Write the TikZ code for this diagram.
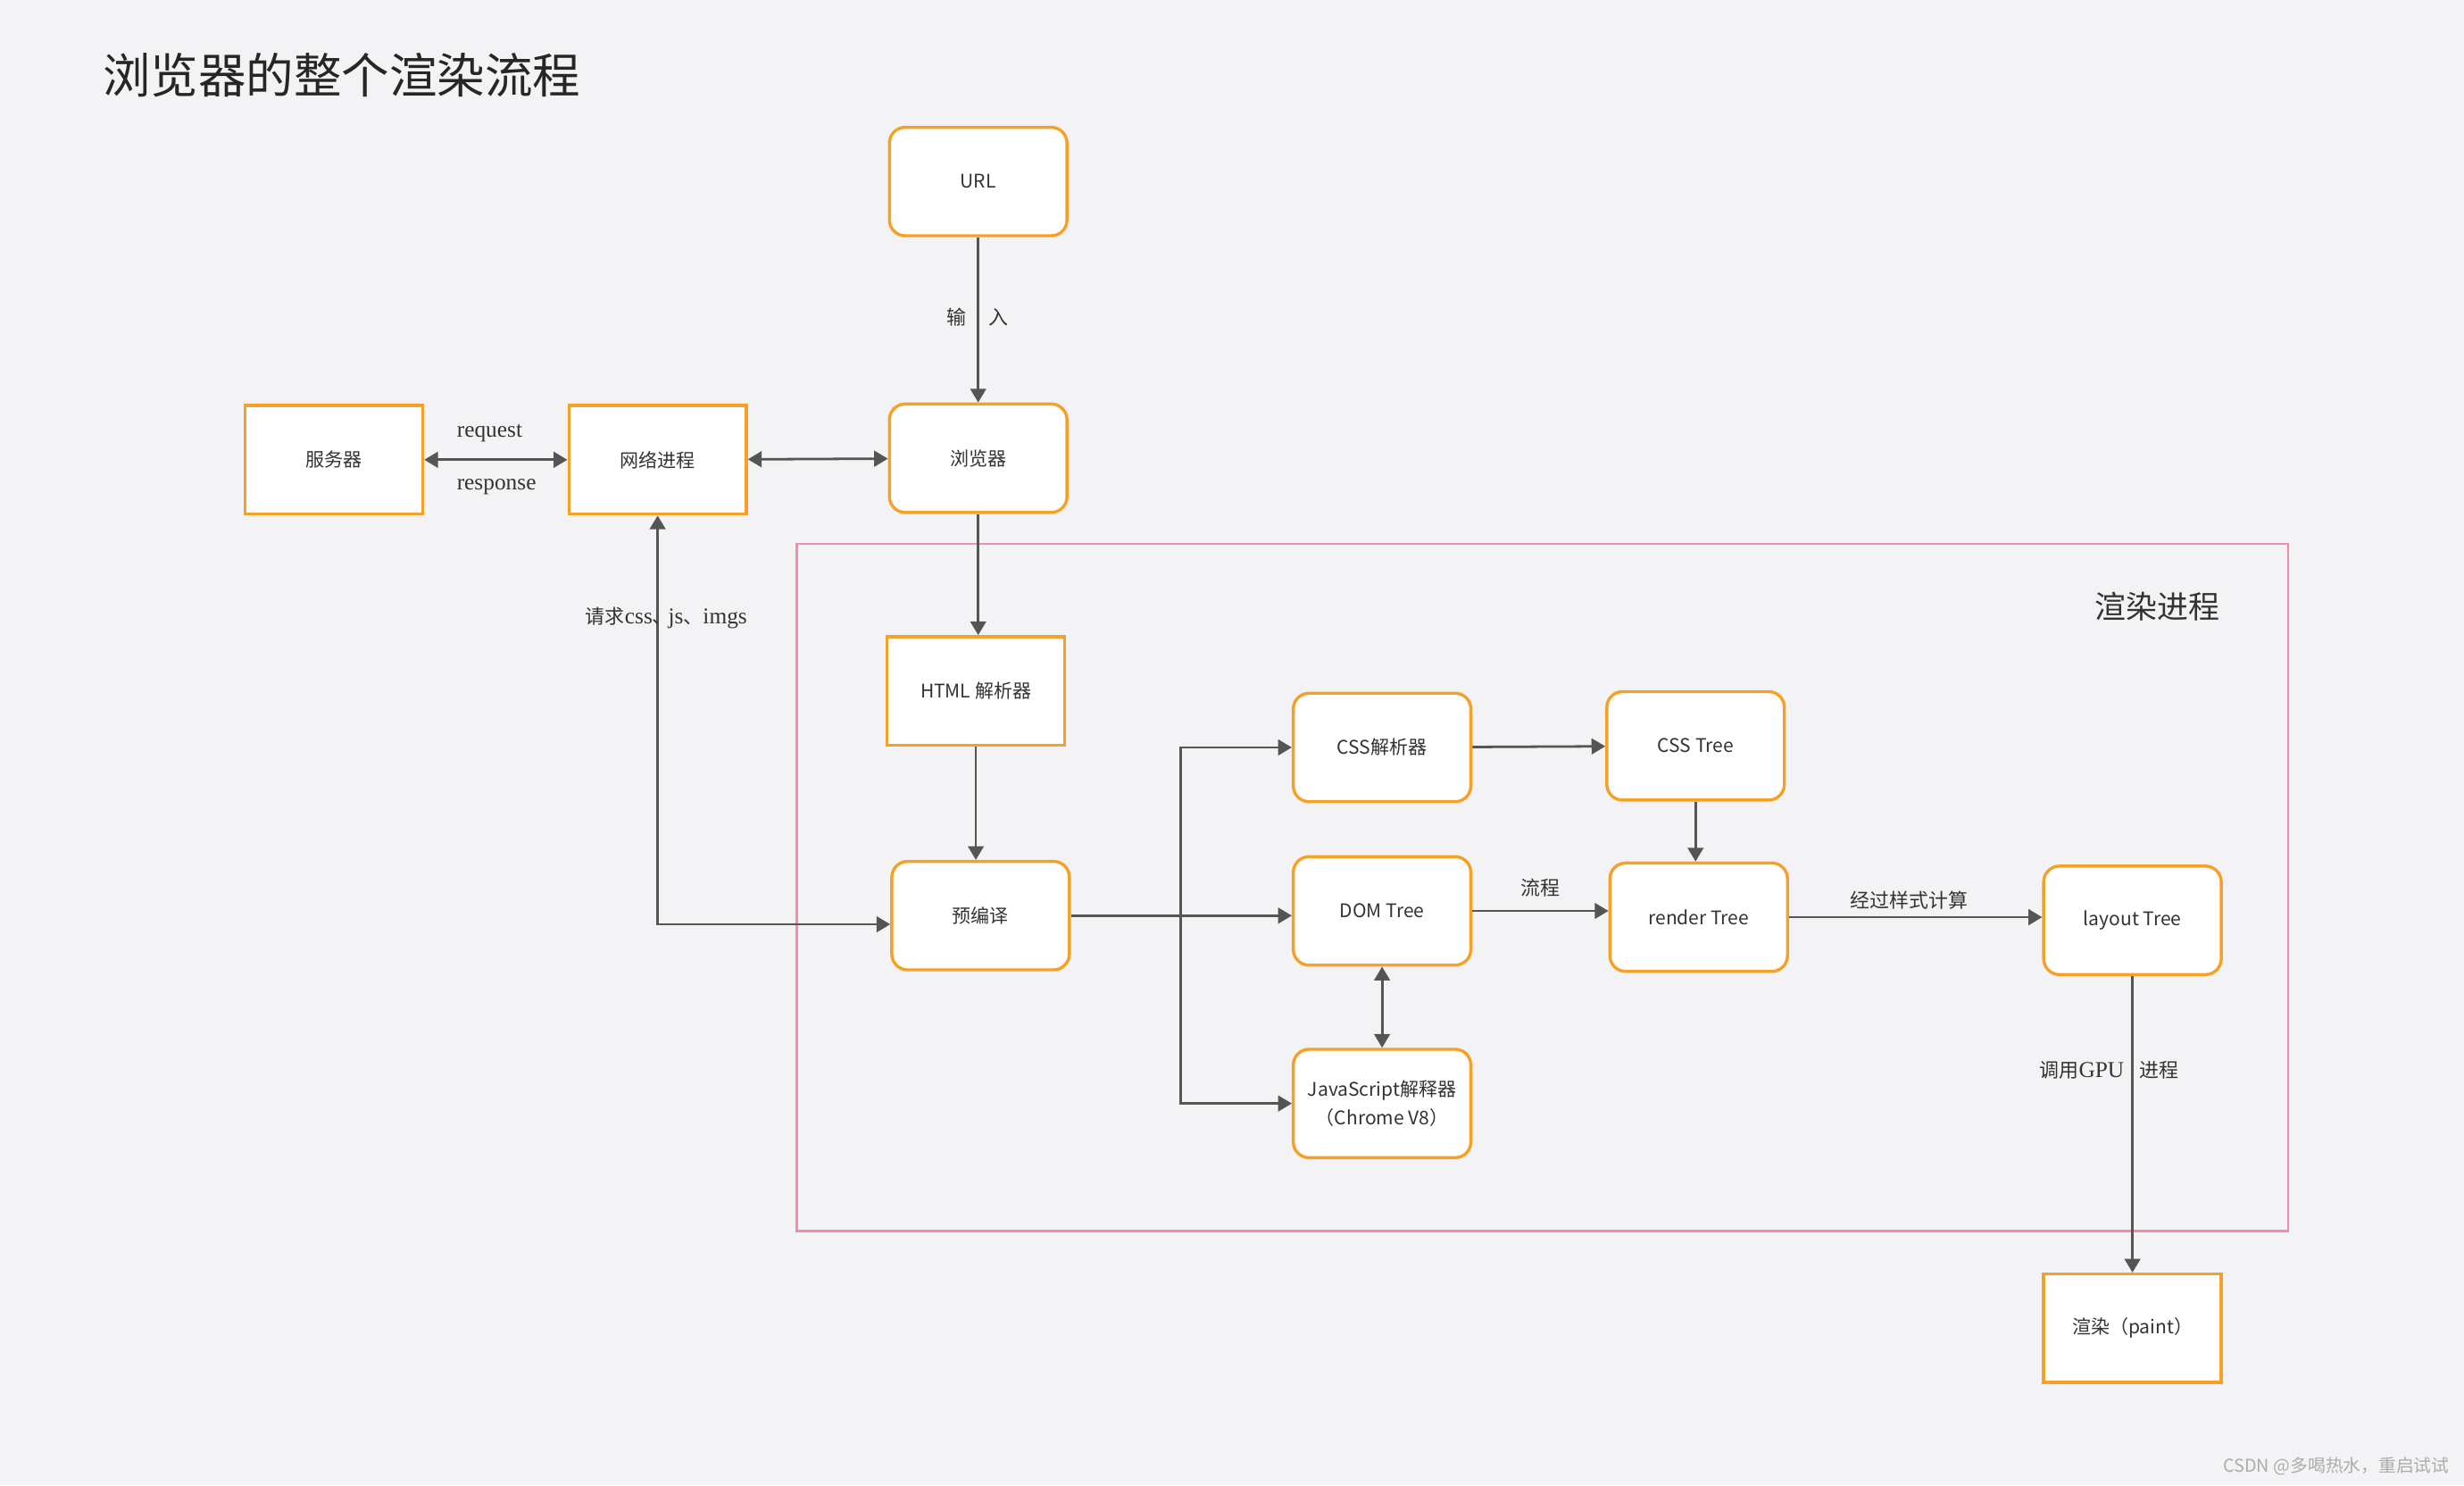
\documentclass[tikz,border=0pt]{standalone}
\usepackage{fontspec}
\setmainfont{Noto Sans CJK SC}
\newfontfamily\serifen{Liberation Serif}
\usetikzlibrary{arrows.meta,calc}
\definecolor{bgcol}{RGB}{243,243,245}
\definecolor{boxorange}{RGB}{246,160,40}
\definecolor{arrowgray}{RGB}{85,85,85}
\definecolor{procpink}{RGB}{242,140,175}
\definecolor{textdark}{RGB}{51,51,51}
\newcommand{\entext}[1]{{\serifen\fontsize{8.2pt}{10pt}\selectfont #1}}
\begin{document}
\begin{tikzpicture}[x=0.02cm,y=-0.02cm,
	stepbox/.style={draw=boxorange,fill=white,line width=1.1pt,minimum width=2.26cm,minimum height=1.38cm,
		text=textdark,align=center,font=\fontsize{6.8pt}{10.2pt}\selectfont},
	roundbox/.style={stepbox,rounded corners=0.2cm},
	flow/.style={draw=arrowgray,line width=0.9pt,-{Triangle[length=0.175cm,width=0.2cm]}},
	flowboth/.style={flow,{Triangle[length=0.175cm,width=0.2cm]}-{Triangle[length=0.175cm,width=0.2cm]}},
	cnlbl/.style={text=textdark,inner sep=0pt,font=\fontsize{7.1pt}{8.5pt}\selectfont},
	enlbl/.style={text=textdark,inner sep=0pt,font=\serifen\fontsize{8.2pt}{10pt}\selectfont}]
	% Canvas
	\fill[bgcol] (0,0) rectangle (1568,945);
	\useasboundingbox (0,0) rectangle (1568,945);
	\node[anchor=west,inner sep=0pt,text=black!85,font=\fontsize{17.3pt}{20pt}\selectfont] (title) at (65,48) {浏览器的整个渲染流程};
	% Render process frame
	\draw[procpink,line width=0.9pt] (507,346) rectangle (1456,783);
		\node[text=textdark,font=\fontsize{11.3pt}{13pt}\selectfont] (proclbl) at (1373,386) {渲染进程};
	% Boxes
	\node[roundbox] (url) at (622.5,115.5) {URL};
	\node[roundbox] (browser) at (622.5,291.5) {浏览器};
	\node[stepbox] (server) at (212.5,292.5) {服务器};
	\node[stepbox] (netproc) at (418.5,292.5) {网络进程};
	\node[stepbox] (htmlparser) at (621,439.5) {HTML 解析器};
	\node[roundbox] (precompile) at (624,582.5) {预编译};
	\node[roundbox] (cssparser) at (879.5,475.5) {CSS解析器};
	\node[roundbox] (domtree) at (879.5,579.5) {DOM Tree};
	\node[roundbox] (jsengine) at (879.5,702) {JavaScript解释器\\（Chrome V8）};
	\node[roundbox] (csstree) at (1079,474.5) {CSS Tree};
	\node[roundbox] (rendertree) at (1081,583.5) {render Tree};
	\node[roundbox] (layouttree) at (1357,585.5) {layout Tree};
	\node[stepbox] (paint) at (1357,845) {渲染（paint）};
	% Browser side
	\draw[flow] (url) -- node[cnlbl,pos=0.486,anchor=east,xshift=-0.14cm] (inlbla) {输}
		node[cnlbl,pos=0.486,anchor=west,xshift=0.12cm] (inlblb) {入} (browser);
	\draw[flowboth] (server) -- node[enlbl,pos=0.457,yshift=0.34cm] (reqlbl) {request}
		node[enlbl,pos=0.505,yshift=-0.34cm] (reslbl) {response} (netproc);
	\draw[flowboth] (netproc) -- (browser);
	\draw[flow] (browser.south) -- (browser.south |- htmlparser.north);
	\draw[flow] (htmlparser.south) -- (htmlparser.south |- precompile.north);
		%Resource requests
		\draw[flowboth] (netproc.south) |- node[cnlbl,pos=0.125,anchor=base east,xshift=0.2cm,yshift=-0.08cm] (reslbla) {请求\entext{css}、}
			node[cnlbl,pos=0.125,anchor=base west,xshift=0.12cm,yshift=-0.08cm] (reslblb) {\entext{js}、\entext{imgs}} ([yshift=-0.11cm]precompile.west);
	% Parsing fork
	\coordinate (fork) at ([xshift=1.4cm]precompile.east);
	\draw[flow] (precompile.east) -- (precompile.east -| domtree.west);
	\draw[flow] (fork) |- (cssparser.west);
	\draw[flow] (fork) |- (jsengine.west);
	\draw[flowboth] (domtree) -- (jsengine);
	% Trees
	\draw[flow] (cssparser) -- (csstree);
	\draw[flow] (csstree.south) -- (csstree.south |- rendertree.north);
	\draw[flow] (domtree) -- node[cnlbl,midway,yshift=0.29cm] (flowlbl) {流程} (domtree -| rendertree.west);
	\draw[flow] (rendertree) -- node[cnlbl,pos=0.475,yshift=0.21cm] (stylelbl) {经过样式计算} (rendertree -| layouttree.west);
	\draw[flow] (layouttree) -- node[cnlbl,pos=0.316,anchor=base east,xshift=-0.09cm,yshift=-0.1cm] (gpulbla) {调用\entext{GPU}}
		node[cnlbl,pos=0.316,anchor=base west,xshift=0.07cm,yshift=-0.1cm] (gpulblb) {进程} (paint);
	% Watermark
	\node[anchor=east,inner sep=0pt,text=gray!65,font=\fontsize{6.4pt}{7.5pt}\selectfont] (mark) at (1559,933) {CSDN @多喝热水，重启试试};
\end{tikzpicture}
\end{document}
